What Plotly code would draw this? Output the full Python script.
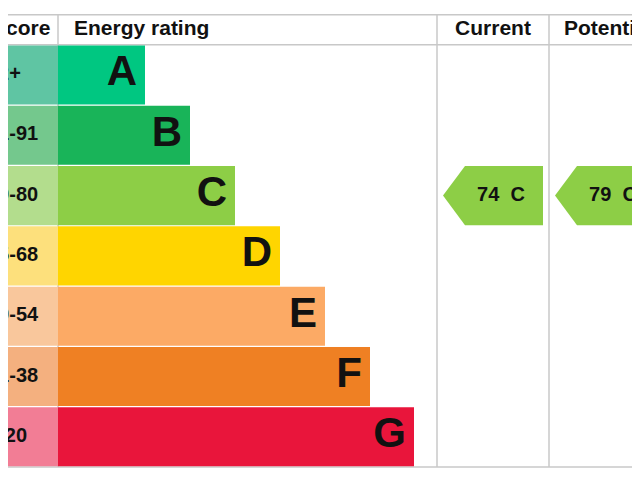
import plotly.graph_objects as go

bands = ["A", "B", "C", "D", "E", "F", "G"]
scores = ["92+", "81-91", "69-80", "55-68", "39-54", "21-38", "1-20"]
band_len = [87, 132, 177, 222, 267, 312, 356]
band_colors = ["#00c781", "#19b459", "#8dce46", "#ffd500", "#fcaa65", "#ef8023", "#e9153b"]
score_colors = ["#5fc5a3", "#74c88d", "#b3dd8d", "#fde07c", "#f9c79c", "#f4b07f", "#f27d95"]
current_score, current_band = 74, "C"
potential_score, potential_band = 79, "C"

rows = list(range(len(bands)))
X0 = 58  # start of the rating bars

fig = go.Figure()
# score column
fig.add_trace(go.Bar(orientation="h", y=rows, x=[X0 + 60] * 7, base=-60, width=0.98,
                     marker=dict(color=score_colors, line_width=0), hoverinfo="skip"))
fig.add_trace(go.Scatter(x=[-13] * 7, y=rows, mode="text", text=scores, textposition="middle right",
                         textfont=dict(family="Liberation Sans", size=20, color="#111"), hoverinfo="skip"))
# rating bars
fig.add_trace(go.Bar(orientation="h", y=rows, x=band_len, base=X0, width=0.98,
                     marker=dict(color=band_colors, line_width=0), hoverinfo="skip"))
fig.add_trace(go.Scatter(x=[X0 + l - 8 for l in band_len], y=rows, mode="text", text=bands,
                         textposition="middle left",
                         textfont=dict(family="Liberation Sans", size=42, color="#111"), hoverinfo="skip"))

# current / potential arrows
shapes = []
texts = []
for x_left, val, band in [(443, current_score, current_band), (555, potential_score, potential_band)]:
    r = bands.index(band)
    c = band_colors[r]
    t, b = r - 0.49, r + 0.49
    shapes.append(dict(type="path", path=f"M {x_left},{r} L {x_left+22},{t} L {x_left+100},{t} L {x_left+100},{b} L {x_left+22},{b} Z",
                       fillcolor=c, line_width=0, layer="below"))
    texts.append((x_left + 58, r, f"{val}  {band}"))
fig.add_trace(go.Scatter(x=[t[0] for t in texts], y=[t[1] for t in texts], mode="text",
                         text=[t[2] for t in texts],
                         textfont=dict(family="Liberation Sans", size=20, color="#111"), hoverinfo="skip"))

# headers
fig.add_trace(go.Scatter(x=[-8, 74, 493, 564], y=[-0.75] * 4, mode="text",
                         text=["<b>Score</b>", "<b>Energy rating</b>", "<b>Current</b>", "<b>Potential</b>"],
                         textposition=["middle right", "middle right", "middle center", "middle right"],
                         textfont=dict(family="Liberation Sans", size=21, color="#111"), hoverinfo="skip"))

grid = "#c8c8c8"
for y in [-1, -0.5, 6.5]:
    shapes.append(dict(type="line", x0=0, x1=660, y0=y, y1=y, line=dict(color=grid, width=1.5), layer="below"))
for x in [X0, 437, 549]:
    shapes.append(dict(type="line", x0=x, x1=x, y0=-1, y1=6.5, line=dict(color=grid, width=1.5), layer="below"))

# page body adds an 8px offset, so the ranges are shifted by 8px to compensate
fig.update_layout(width=640, height=480, margin=dict(l=0, r=0, t=0, b=0), showlegend=False,
                  plot_bgcolor="white", paper_bgcolor="white", shapes=shapes, barmode="overlay",
                  xaxis=dict(range=[8, 648], visible=False, fixedrange=True),
                  yaxis=dict(range=[6.849, -1.111], visible=False, fixedrange=True))
fig.update_traces(textfont_weight="bold", selector=dict(type="scatter"))
fig.write_html("out.html", config={"displayModeBar": False})
